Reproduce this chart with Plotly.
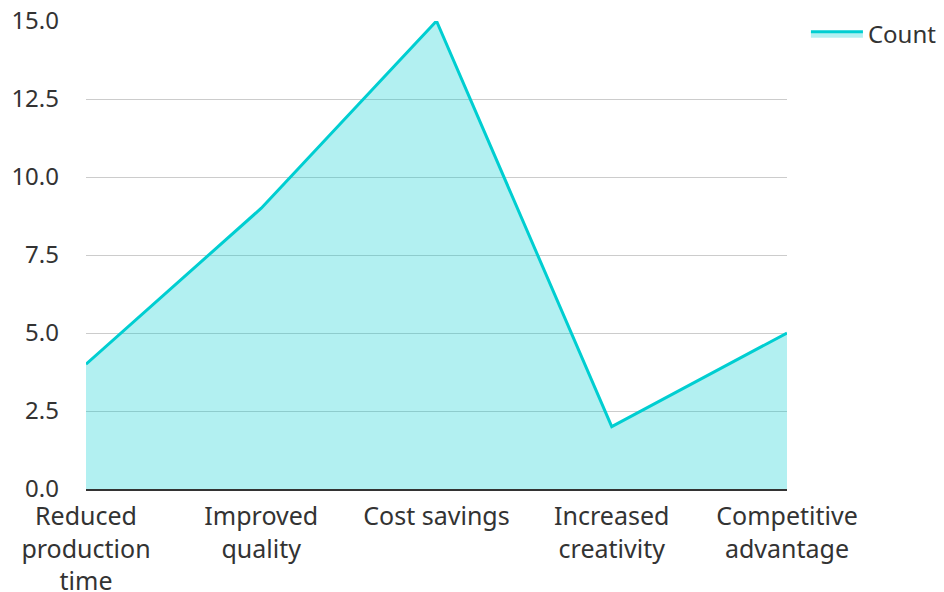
import plotly.graph_objects as go

categories = ["Reduced<br>production<br>time", "Improved<br>quality", "Cost savings",
              "Increased<br>creativity", "Competitive<br>advantage"]
counts = [4, 9, 15, 2, 5]
y_ticks = [0, 2.5, 5, 7.5, 10, 12.5, 15]
y_tick_labels = ["0.0", "2.5", "5.0", "7.5", "10.0", "12.5", "15.0"]

fig = go.Figure()
fig.add_trace(go.Scatter(
    x=categories, y=counts, name="Count", mode="lines",
    line=dict(color="#00CED1", width=3),
    fill="tozeroy", fillcolor="rgba(0,206,209,0.3)",
))

fig.update_layout(
    width=936, height=584,
    margin=dict(l=78, r=157, t=13, b=103, autoexpand=False),
    paper_bgcolor="white", plot_bgcolor="white",
    font=dict(family="Noto Sans", size=24, color="#333333"),
    showlegend=True,
    legend=dict(x=1.027, y=1.02, xanchor="left", yanchor="top",
                itemwidth=52,
                font=dict(size=24, color="#333333"), bgcolor="rgba(0,0,0,0)"),
    xaxis=dict(range=[0, 4], showgrid=False, showline=True, linecolor="#333333",
               linewidth=2, ticks="", tickfont=dict(size=25), automargin=False,
               ticklabelstandoff=4, ticklabeloverflow="allow"),
    yaxis=dict(range=[0, 15.0005], tickvals=y_ticks, ticktext=y_tick_labels,
               showgrid=True, gridcolor="#cccccc", gridwidth=1, zeroline=False,
               showline=False, ticks="", tickfont=dict(size=24), automargin=False,
               ticklabelstandoff=26, ticklabeloverflow="allow"),
)

fig.write_html("out.html")
